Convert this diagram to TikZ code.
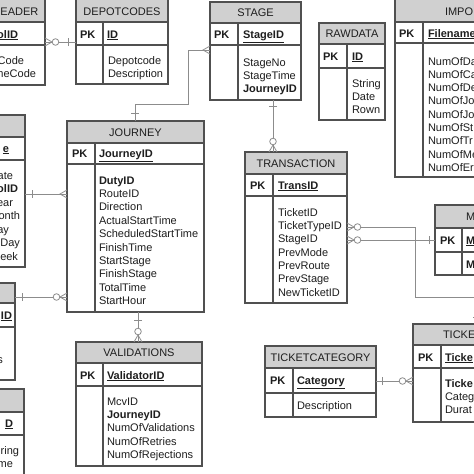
\documentclass[tikz,border=0pt]{standalone}
\usepackage{fontspec}
\setmainfont{Liberation Sans}
\usetikzlibrary{fit}
\definecolor{hdrc}{HTML}{D0D0D0}
\definecolor{tblc}{HTML}{505050}
\definecolor{connc}{HTML}{8C8C8C}
\definecolor{txtc}{HTML}{1E1E1E}
\newcommand\fs{\fontsize{11}{13.4}\selectfont}
\newcommand\ertable[8]{%
  \fill[hdrc] (#2,#3) rectangle (#4,#5);
  \draw[tbl] (#2,#3) rectangle (#4,#7);
  \draw[tbl] (#2,#5) -- (#4,#5) (#2,#6) -- (#4,#6) (#8,#5) -- (#8,#7);
  \coordinate (#1-nw) at (#2,#3);
  \coordinate (#1-se) at (#4,#7);
  \node[fit=(#1-nw)(#1-se), inner sep=0pt, outer sep=0pt] (#1) {};
}
\newcommand\fieldlist[5]{%
  \foreach \t [count=\i from 0] in {#5}
    \node[txt, anchor=base west] (#1-\i) at (#2,{#3+#4*\i}) {\t};
}
\begin{document}
\begin{tikzpicture}[x=1pt,y=-1pt,
  tbl/.style={draw=tblc, line width=1.1pt},
  conn/.style={draw=connc, line width=0.8pt},
  txt/.style={inner sep=0pt, outer sep=0pt, font=\fs, text=txtc},
  ercrow/.pic={\draw[conn] (0,-4) -- (7,0) -- (0,4);},
  ercrowo/.pic={\draw[conn] (0,-4) -- (7,0) -- (0,4); \draw[conn, fill=white] (10.5,0) circle (3.3pt);},
  erbar/.pic={\draw[conn] (#1,-4) -- (#1,4);}
]
\useasboundingbox (0,0) rectangle (474,474);
\fill[white] (0,0) rectangle (474,474);

% ---- tables ----
% partial table top-left
\ertable{header}{-100}{-2}{45}{22}{45}{85}{-60}
\node[txt, anchor=base west] (header-t) at (0.5,15) {EADER};
\node[txt, anchor=base east] (header-pk) at (18,38) {\underline{\textbf{olID}}};
\node[txt, anchor=base east] (header-f0) at (24,64) {Code};
\node[txt, anchor=base east] (header-f1) at (36,77.4) {meCode};

% DEPOTCODES
\ertable{depot}{76}{-1}{168}{22}{45}{84}{103}
\node[txt, anchor=base] (depot-t) at (122,15) {DEPOTCODES};
\node[txt, anchor=base west] (depot-pk) at (80,38) {\textbf{PK}};
\node[txt, anchor=base west] (depot-id) at (107,38) {\underline{\textbf{ID}}};
\fieldlist{depot-f}{108}{64}{13.2}{Depotcode, Description}

% STAGE
\ertable{stage}{210}{2}{301}{23}{45}{100}{238}
\node[txt, anchor=base] (stage-t) at (255.5,16.5) {STAGE};
\node[txt, anchor=base west] (stage-pk) at (214,38) {\textbf{PK}};
\node[txt, anchor=base west] (stage-id) at (243,38) {\underline{\textbf{StageID}}};
\fieldlist{stage-f}{243}{66}{13.3}{StageNo, StageTime, \textbf{JourneyID}}

% RAWDATA
\ertable{raw}{319}{23}{385}{44}{68}{120}{347}
\node[txt, anchor=base] (raw-t) at (352,37.5) {RAWDATA};
\node[txt, anchor=base west] (raw-pk) at (323,60) {\textbf{PK}};
\node[txt, anchor=base west] (raw-id) at (352,60) {\underline{\textbf{ID}}};
\fieldlist{raw-f}{352}{87}{13.2}{String, Date, Rown}

% IMPO... (partial, right)
\ertable{impo}{395}{-2}{520}{22}{43}{177}{423}
\node[txt, anchor=base west] (impo-t) at (445,15) {IMPO};
\node[txt, anchor=base west] (impo-pk) at (399,37) {\textbf{PK}};
\node[txt, anchor=base west] (impo-id) at (428,37) {\underline{\textbf{Filename}}};
\fieldlist{impo-f}{428}{65}{13.3}{NumOfDa, NumOfCa, NumOfDe, NumOfJo, NumOfJo, NumOfSt, NumOfTr, NumOfMe, NumOfEr}

% left partial table A
\ertable{lefta}{-100}{115}{25}{137}{160}{267}{-60}
\node[txt, anchor=base east] (lefta-pk) at (9,152) {\underline{\textbf{e}}};
\node[txt, anchor=base east] (lefta-f0) at (13,179) {ate};
\node[txt, anchor=base east] (lefta-f1) at (18,192.4) {\textbf{olID}};
\node[txt, anchor=base east] (lefta-f2) at (13,206) {ear};
\node[txt, anchor=base east] (lefta-f3) at (20,219.5) {onth};
\node[txt, anchor=base east] (lefta-f4) at (9,233) {ay};
\node[txt, anchor=base east] (lefta-f5) at (20,246.5) {Day};
\node[txt, anchor=base east] (lefta-f6) at (18,260) {eek};

% left partial table B
\ertable{leftb}{-100}{283}{15}{303}{327}{380}{-60}
\node[txt, anchor=base east] (leftb-pk) at (12,319) {\underline{\textbf{ID}}};
\node[txt, anchor=base east] (leftb-f0) at (3,363) {s};

% left partial table C
\ertable{leftc}{-100}{389}{24}{412}{435}{490}{-60}
\node[txt, anchor=base east] (leftc-pk) at (13,427) {\underline{\textbf{D}}};
\node[txt, anchor=base east] (leftc-f0) at (19,454) {ring};
\node[txt, anchor=base east] (leftc-f1) at (13,467) {me};

% JOURNEY
\ertable{journey}{67}{121}{204}{143}{164}{312}{95}
\node[txt, anchor=base] (journey-t) at (135.5,136) {JOURNEY};
\node[txt, anchor=base west] (journey-pk) at (72,157.5) {\textbf{PK}};
\node[txt, anchor=base west] (journey-id) at (99,157.5) {\underline{\textbf{JourneyID}}};
\fieldlist{journey-f}{99}{184}{13.4}{\textbf{DutyID}, RouteID, Direction, ActualStartTime, ScheduledStartTime, FinishTime, StartStage, FinishStage, TotalTime, StartHour}

% TRANSACTION
\ertable{trans}{245}{152}{347}{174}{196}{303}{273}
\node[txt, anchor=base] (trans-t) at (296,167) {TRANSACTION};
\node[txt, anchor=base west] (trans-pk) at (250,189) {\textbf{PK}};
\node[txt, anchor=base west] (trans-id) at (278,189) {\underline{\textbf{TransID}}};
\fieldlist{trans-f}{278}{216}{13.35}{TicketID, TicketTypeID, StageID, PrevMode, PrevRoute, PrevStage, NewTicketID}

% VALIDATIONS
\ertable{valid}{76}{342}{202}{363}{386}{466}{103}
\node[txt, anchor=base] (valid-t) at (139,356.5) {VALIDATIONS};
\node[txt, anchor=base west] (valid-pk) at (80,379) {\textbf{PK}};
\node[txt, anchor=base west] (valid-id) at (107,379) {\underline{\textbf{ValidatorID}}};
\fieldlist{valid-f}{107}{405}{13.45}{McvID, \textbf{JourneyID}, NumOfValidations, NumOfRetries, NumOfRejections}

% M... (partial, right)
\ertable{mtab}{435}{205}{520}{228}{252}{275}{462}
\node[txt, anchor=base west] (mtab-t) at (466,220) {M};
\node[txt, anchor=base west] (mtab-pk) at (440,244) {\textbf{PK}};
\node[txt, anchor=base west] (mtab-id) at (466,244) {\underline{\textbf{M}}};
\node[txt, anchor=base west] (mtab-f0) at (466,268) {\textbf{M}};

% TICKE... (partial, right)
\ertable{ttype}{413}{324}{520}{345}{368}{422}{441}
\node[txt, anchor=base west] (ttype-t) at (443,338.5) {TICKE};
\node[txt, anchor=base west] (ttype-pk) at (418,361) {\textbf{PK}};
\node[txt, anchor=base west] (ttype-id) at (445,361) {\underline{\textbf{Ticke}}};
\fieldlist{ttype-f}{445}{387}{13.2}{\textbf{Ticke}, Categ, Durat}

% TICKETCATEGORY
\ertable{tcat}{265}{346}{376}{368}{393}{417}{293}
\node[txt, anchor=base] (tcat-t) at (320.5,361) {TICKETCATEGORY};
\node[txt, anchor=base west] (tcat-pk) at (270,384) {\textbf{PK}};
\node[txt, anchor=base west] (tcat-id) at (297,384) {\underline{\textbf{Category}}};
\node[txt, anchor=base west] (tcat-f0) at (297,409) {Description};

% ---- connectors ----
\draw[conn] (header.east |- 0,42) -- (depot.west |- 0,42);
\pic at (header.east |- 0,42) {ercrowo};
\pic[rotate=180] at (depot.west |- 0,42) {erbar=8};

\draw[conn] (stage.west |- 0,50) -| (188,104) -| (journey.north -| 135,0);
\pic[rotate=180] at (stage.west |- 0,50) {ercrow};
\pic[rotate=90] at (journey.north -| 135,0) {erbar=8};

\draw[conn] (stage.south -| 273,0) -- (trans.north -| 273,0);
\pic[rotate=-90] at (stage.south -| 273,0) {erbar=6};
\pic[rotate=90] at (trans.north -| 273,0) {ercrowo};

\draw[conn] (lefta.east |- 0,194) -- (journey.west |- 0,194);
\pic at (lefta.east |- 0,194) {erbar=7};
\pic[rotate=180] at (journey.west |- 0,194) {ercrow};

\draw[conn] (leftb.east |- 0,297) -- (journey.west |- 0,297);
\pic at (leftb.east |- 0,297) {erbar=7};
\pic[rotate=180] at (journey.west |- 0,297) {ercrowo};

\draw[conn] (journey.south -| 138,0) -- (valid.north -| 138,0);
\pic[rotate=-90] at (journey.south -| 138,0) {erbar=8};
\pic[rotate=90] at (valid.north -| 138,0) {ercrowo};

\draw[conn] (trans.east |- 0,227) -| (415,297) -| (ttype.north -| 477,0);
\pic at (trans.east |- 0,227) {ercrowo};
\pic[rotate=90] at (ttype.north -| 477,0) {erbar=7};

\draw[conn] (trans.east |- 0,240) -- (mtab.west |- 0,240);
\pic at (trans.east |- 0,240) {ercrowo};
\pic[rotate=180] at (mtab.west |- 0,240) {erbar=6};

\draw[conn] (tcat.east |- 0,381) -- (ttype.west |- 0,381);
\pic at (tcat.east |- 0,381) {erbar=6};
\pic[rotate=180] at (ttype.west |- 0,381) {ercrowo};
\end{tikzpicture}
\end{document}
